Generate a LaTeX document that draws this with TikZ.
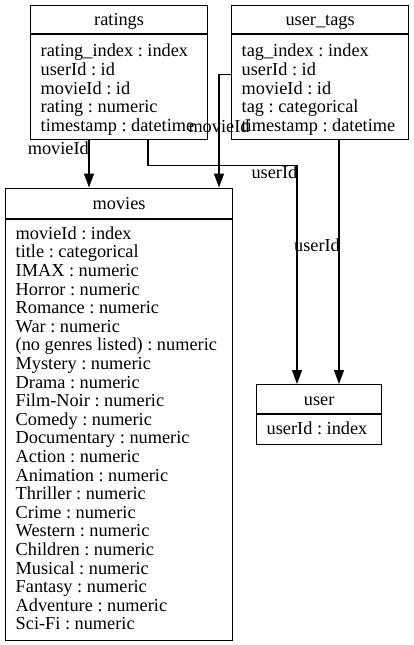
\documentclass[tikz,border=0pt]{standalone}
\usepackage{fontspec}
\setmainfont{Liberation Serif}
\usetikzlibrary{arrows.meta}
\frenchspacing
\newcommand{\rows}[1]{\begin{tabular}[t]{@{}l@{}}#1\end{tabular}}
\begin{document}
\begin{tikzpicture}[x=1pt,y=-1pt,
  font=\fontsize{18.3}{18.6}\selectfont,
  box/.style={draw, line width=1.2pt, inner sep=0pt, anchor=north west},
  hdr/.style={box, text height=15pt, text depth=3pt},
  txt/.style={inner sep=0pt, anchor=base west},
  edge/.style={line width=1.2pt, -{Triangle[length=14pt,width=10pt]}},
  lbl/.style={inner sep=0pt, text height=12pt, text depth=4pt}]
\useasboundingbox (0,0) rectangle (414,645);
% ratings
\node[hdr, minimum width=177pt, minimum height=28pt] (ratingsH) at (30,5) {ratings};
\node[box, minimum width=177pt, minimum height=105pt] (ratingsB) at (ratingsH.south west) {};
\node[txt] (ratingsT) at ([xshift=10.5pt,yshift=-22.7pt]ratingsB.north west)
  {\rows{rating\_index : index\\userId : id\\movieId : id\\rating : numeric\\timestamp : datetime}};
% user_tags
\node[hdr, minimum width=177pt, minimum height=28pt] (tagsH) at (231,5) {user\_tags};
\node[box, minimum width=177pt, minimum height=105pt] (tagsB) at (tagsH.south west) {};
\node[txt] (tagsT) at ([xshift=10.5pt,yshift=-22.7pt]tagsB.north west)
  {\rows{tag\_index : index\\userId : id\\movieId : id\\tag : categorical\\timestamp : datetime}};
% movies
\node[hdr, minimum width=227pt, minimum height=30pt] (moviesH) at (5,187.5) {movies};
\node[box, minimum width=227pt, minimum height=421pt] (moviesB) at (moviesH.south west) {};
\node[txt] (moviesT) at ([xshift=10.5pt,yshift=-20.6pt]moviesB.north west)
  {\rows{movieId : index\\title : categorical\\IMAX : numeric\\Horror : numeric\\Romance : numeric\\War : numeric\\(no genres listed) : numeric\\Mystery : numeric\\Drama : numeric\\Film-Noir : numeric\\Comedy : numeric\\Documentary : numeric\\Action : numeric\\Animation : numeric\\Thriller : numeric\\Crime : numeric\\Western : numeric\\Children : numeric\\Musical : numeric\\Fantasy : numeric\\Adventure : numeric\\Sci-Fi : numeric}};
% user
\node[hdr, minimum width=125pt, minimum height=29pt] (userH) at (256,384) {user};
\node[box, minimum width=125pt, minimum height=30pt] (userB) at (userH.south west) {};
\node[txt] (userT) at ([xshift=10.5pt,yshift=-20pt]userB.north west) {userId : index};
% connector ends
\coordinate (m1) at ([xshift=84pt]moviesH.north west);
\coordinate (m2) at ([xshift=214pt]moviesH.north west);
\coordinate (u1) at ([xshift=41pt]userH.north west);
\coordinate (u2) at ([xshift=83pt]userH.north west);
% ratings -> movies
\draw[edge] (ratingsB.south -| m1) coordinate (s1) -- (m1);
\node[lbl, anchor=east] (l1) at ([yshift=-10.5pt]s1) {movieId};
% user_tags -> movies
\draw[edge] ([yshift=12.5pt]tagsB.west) -| node[lbl, pos=0.74] (l2) {movieId} (m2);
% ratings -> user
\draw[edge] ([xshift=118pt]ratingsB.south west) -- ++(0,25) coordinate (c1) -| (u1);
\node[lbl, anchor=east] (l3) at ([xshift=0.5pt,yshift=-9.5pt]c1 -| u1) {userId};
% user_tags -> user
\draw[edge] (tagsB.south -| u2) -- (u2);
\node[lbl] (l4) at ([xshift=-22pt,yshift=137pt]u2) {userId};
\end{tikzpicture}
\end{document}
